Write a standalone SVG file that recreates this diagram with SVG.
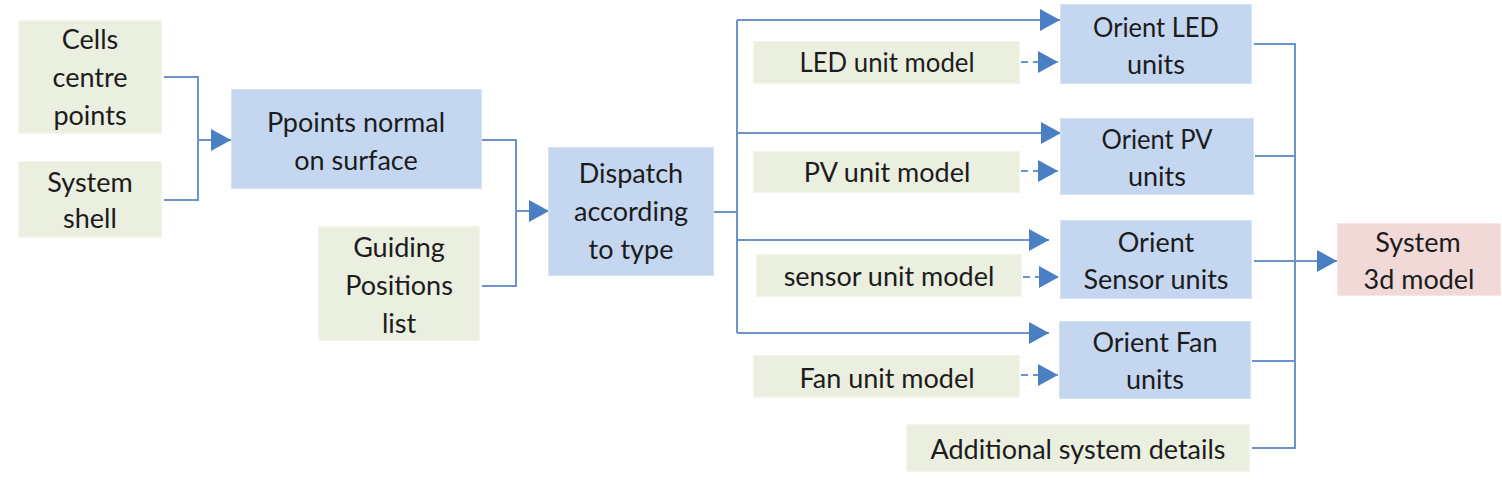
<svg xmlns="http://www.w3.org/2000/svg" width="1502" height="483" viewBox="0 0 1502 483">
<style>
.g{fill:#ebefdf;stroke:#f4f6ea;stroke-width:1}
.b{fill:#c5d7f0;stroke:#d5e2f4;stroke-width:1}
.r{fill:#f1d9d8;stroke:#f6e6e5;stroke-width:1}
text{font-family:"Lato","Carlito","Liberation Sans",sans-serif;font-size:27px;fill:#1c1c1c;text-anchor:middle}
.c{fill:none;stroke:#6c93cb;stroke-width:2}
.a{marker-end:url(#arrow)}
.d{stroke-dasharray:7 5}
</style>
<defs>
<marker id="arrow" markerUnits="userSpaceOnUse" markerWidth="20" markerHeight="22" refX="20" refY="11" orient="auto"><path d="M0 0L20 11L0 22Z" fill="#4a7fc4"/></marker>
</defs>
<rect width="1502" height="483" fill="#fff"/>
<g id="connectors">
<path class="c" d="M164 77H198V200H164"/>
<path class="c a" d="M198 140H231"/>
<path class="c" d="M482 140H516V286H482"/>
<path class="c a" d="M516 211H549"/>
<path class="c" d="M714 212H737"/>
<path class="c" d="M737 333V20"/>
<path class="c a" d="M737 20H1060"/>
<path class="c a" d="M737 133H1061"/>
<path class="c a" d="M737 240H1049"/>
<path class="c a" d="M737 333H1049"/>
<path class="c d a" d="M1021 62H1058"/>
<path class="c d a" d="M1021 171H1058"/>
<path class="c d a" d="M1023 277H1059"/>
<path class="c d a" d="M1021 375H1058"/>
<path class="c" d="M1254 44H1295V448H1252"/>
<path class="c" d="M1255 156H1295"/>
<path class="c" d="M1254 261H1295"/>
<path class="c" d="M1252 361H1295"/>
<path class="c a" d="M1295 261H1337"/>
</g>
<g id="cells"><rect class="g" x="18.500" y="20.500" width="143" height="113"/><text x="90" y="49">Cells</text><text x="90" y="87">centre</text><text x="90" y="125">points</text></g>
<g id="shell"><rect class="g" x="18.500" y="161.500" width="143" height="76"/><text x="90" y="192">System</text><text x="90" y="228">shell</text></g>
<g id="ppoints"><rect class="b" x="231.500" y="89.500" width="250" height="99"/><text x="356" y="132">Ppoints normal</text><text x="356" y="170">on surface</text></g>
<g id="guiding"><rect class="g" x="318.500" y="226.500" width="161" height="114"/><text x="399" y="257">Guiding</text><text x="399" y="295">Positions</text><text x="399" y="333">list</text></g>
<g id="dispatch"><rect class="b" x="548.500" y="147.500" width="165" height="128"/><text x="631" y="183">Dispatch</text><text x="631" y="221">according</text><text x="631" y="259">to type</text></g>
<g id="led-model"><rect class="g" x="753.500" y="41.500" width="266" height="42"/><text x="887" y="72" textLength="175" lengthAdjust="spacingAndGlyphs">LED unit model</text></g>
<g id="pv-model"><rect class="g" x="753.500" y="151.500" width="266" height="41"/><text x="887" y="182">PV unit model</text></g>
<g id="sensor-model"><rect class="g" x="756.500" y="254.500" width="265" height="42"/><text x="889" y="286">sensor unit model</text></g>
<g id="fan-model"><rect class="g" x="753.500" y="355.500" width="266" height="42"/><text x="887" y="388">Fan unit model</text></g>
<g id="orient-led"><rect class="b" x="1060.500" y="4.500" width="191" height="79"/><text x="1156" y="37" textLength="126" lengthAdjust="spacingAndGlyphs">Orient LED</text><text x="1156" y="74">units</text></g>
<g id="orient-pv"><rect class="b" x="1060.500" y="118.500" width="193" height="76"/><text x="1157" y="149" textLength="111" lengthAdjust="spacingAndGlyphs">Orient PV</text><text x="1157" y="186">units</text></g>
<g id="orient-sensor"><rect class="b" x="1060.500" y="220.500" width="191" height="78"/><text x="1156" y="252">Orient</text><text x="1156" y="289">Sensor units</text></g>
<g id="orient-fan"><rect class="b" x="1059.500" y="321.500" width="191" height="77"/><text x="1155" y="352">Orient Fan</text><text x="1155" y="389">units</text></g>
<g id="additional"><rect class="g" x="906.500" y="424.500" width="343" height="47"/><text x="1078" y="459">Additional system details</text></g>
<g id="system-model"><rect class="r" x="1337.500" y="223.500" width="163" height="72"/><text x="1418" y="252">System</text><text x="1419" y="289">3d model</text></g>
</svg>
